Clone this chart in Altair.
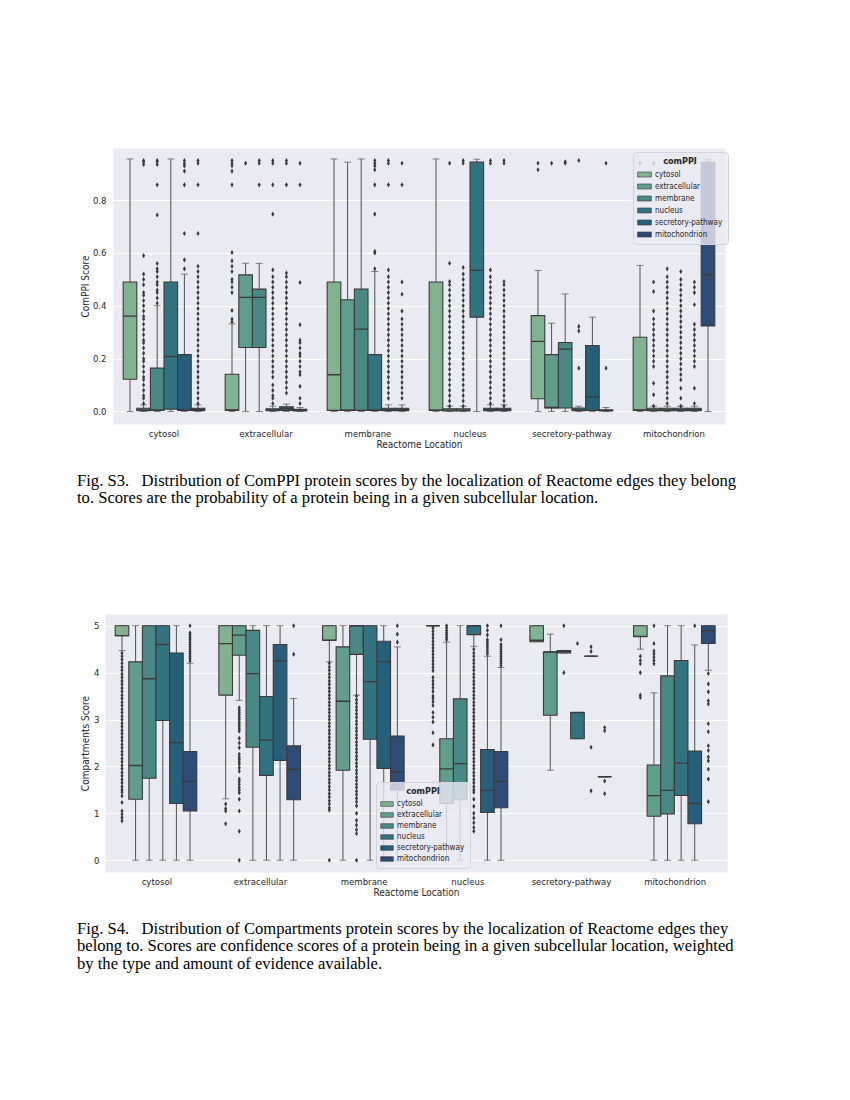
import altair as alt
import pandas as pd

LOCATIONS = ["cytosol", "extracellular", "membrane", "nucleus", "secretory-pathway", "mitochondrion"]
COMPPI = ["cytosol", "extracellular", "membrane", "nucleus", "secretory-pathway", "mitochondrion"]
PALETTE = ["#81B390", "#609D8B", "#4A8886", "#33737F", "#275F7B", "#2E4C76"]

# ---------- Fig. S3 (ComPPI score) : 6 values per Reactome location, hue order = COMPPI
S3_Q1 = [0.122, 0.003, 0.004, 0.009, 0.004, 0.003,
         0.004, 0.242, 0.242, 0.003, 0.004, 0.002,
         0.004, 0.004, 0.004, 0.004, 0.003, 0.003,
         0.004, 0.002, 0.002, 0.357, 0.003, 0.003,
         0.048, 0.013, 0.013, 0.003, 0.004, 0.002,
         0.004, 0.003, 0.003, 0.003, 0.003, 0.324]
S3_MED = [0.361, 0.006, 0.005, 0.208, 0.005, 0.006,
          0.006, 0.432, 0.432, 0.005, 0.012, 0.004,
          0.139, 0.005, 0.312, 0.005, 0.006, 0.006,
          0.005, 0.005, 0.005, 0.534, 0.006, 0.006,
          0.265, 0.015, 0.236, 0.006, 0.054, 0.004,
          0.006, 0.006, 0.006, 0.006, 0.006, 0.517]
S3_Q3 = [0.490, 0.012, 0.164, 0.490, 0.215, 0.012,
         0.141, 0.517, 0.463, 0.010, 0.018, 0.008,
         0.490, 0.423, 0.463, 0.215, 0.012, 0.012,
         0.490, 0.010, 0.010, 0.944, 0.012, 0.012,
         0.363, 0.215, 0.261, 0.013, 0.250, 0.006,
         0.281, 0.012, 0.012, 0.012, 0.012, 0.944]
S3_WLO = [0, 0, 0, 0, 0, 0,
          0, 0, 0, 0, 0, 0,
          0, 0, 0, 0, 0, 0,
          0, 0, 0, 0, 0, 0,
          0, 0, 0, 0, 0, 0,
          0, 0, 0, 0, 0, 0]
S3_WHI = [0.956, 0.025, 0.400, 0.956, 0.520, 0.025,
          0.332, 0.561, 0.561, 0.020, 0.028, 0.015,
          0.956, 0.944, 0.956, 0.530, 0.025, 0.025,
          0.956, 0.020, 0.020, 0.955, 0.025, 0.025,
          0.534, 0.334, 0.445, 0.020, 0.357, 0.015,
          0.553, 0.020, 0.020, 0.020, 0.020, 0.955]

S3_OUT_CYTOSOL = [
    [],
    [0.03, 0.05, 0.06, 0.08, 0.10, 0.12, 0.13, 0.15, 0.17, 0.19, 0.20, 0.22, 0.24, 0.26, 0.27, 0.29, 0.31,
     0.33, 0.35, 0.36, 0.38, 0.40, 0.42, 0.44, 0.45, 0.48, 0.50, 0.52, 0.59, 0.935, 0.945, 0.95],
    [0.41, 0.43, 0.45, 0.46, 0.48, 0.49, 0.51, 0.53, 0.54, 0.56, 0.744, 0.858, 0.935, 0.945, 0.95],
    [],
    [0.54, 0.574, 0.674, 0.858, 0.91, 0.93, 0.94, 0.95],
    [0.03, 0.05, 0.07, 0.09, 0.11, 0.13, 0.15, 0.17, 0.19, 0.21, 0.23, 0.25, 0.27, 0.29, 0.31, 0.33, 0.35,
     0.37, 0.39, 0.41, 0.43, 0.45, 0.47, 0.49, 0.51, 0.53, 0.55, 0.674, 0.858, 0.94, 0.95],
]
S3_OUT_EXTRACELLULAR = [
    [0.34, 0.35, 0.382, 0.45, 0.47, 0.49, 0.50, 0.53, 0.55, 0.57, 0.602, 0.858, 0.91, 0.93, 0.94, 0.95],
    [0.94],
    [0.858, 0.94, 0.95],
    [0.03, 0.05, 0.06, 0.08, 0.10, 0.13, 0.15, 0.17, 0.19, 0.21, 0.23, 0.25, 0.27, 0.29, 0.31, 0.33, 0.35,
     0.37, 0.39, 0.41, 0.43, 0.45, 0.47, 0.49, 0.51, 0.536, 0.747, 0.858, 0.94, 0.95],
    [0.07, 0.09, 0.11, 0.13, 0.15, 0.17, 0.19, 0.21, 0.23, 0.25, 0.27, 0.29, 0.31, 0.33, 0.35, 0.37, 0.39,
     0.41, 0.43, 0.45, 0.47, 0.49, 0.51, 0.524, 0.858, 0.94, 0.95],
    [0.03, 0.05, 0.095, 0.139, 0.15, 0.17, 0.19, 0.21, 0.22, 0.24, 0.26, 0.27, 0.328, 0.488, 0.858, 0.94],
]
S3_OUT_MEMBRANE = [
    [],
    [],
    [],
    [0.54, 0.60, 0.606, 0.747, 0.858, 0.915, 0.93, 0.94, 0.95],
    [0.05, 0.07, 0.09, 0.11, 0.13, 0.15, 0.17, 0.19, 0.21, 0.23, 0.25, 0.27, 0.29, 0.31, 0.33, 0.35, 0.37,
     0.39, 0.41, 0.43, 0.45, 0.47, 0.49, 0.51, 0.536, 0.858, 0.94, 0.95],
    [0.05, 0.07, 0.09, 0.11, 0.13, 0.15, 0.17, 0.19, 0.21, 0.23, 0.25, 0.27, 0.29, 0.31, 0.33, 0.35, 0.38,
     0.444, 0.49, 0.858, 0.94],
]
S3_OUT_NUCLEUS = [
    [],
    [0.02, 0.04, 0.06, 0.08, 0.10, 0.12, 0.14, 0.16, 0.18, 0.20, 0.22, 0.24, 0.26, 0.28, 0.30, 0.32, 0.34,
     0.36, 0.38, 0.40, 0.42, 0.44, 0.46, 0.48, 0.492, 0.561, 0.94],
    [0.02, 0.04, 0.06, 0.08, 0.10, 0.12, 0.14, 0.16, 0.18, 0.20, 0.22, 0.24, 0.26, 0.28, 0.30, 0.32, 0.34,
     0.36, 0.38, 0.40, 0.42, 0.44, 0.46, 0.48, 0.50, 0.52, 0.545, 0.94, 0.95],
    [],
    [0.03, 0.05, 0.07, 0.09, 0.11, 0.13, 0.15, 0.17, 0.19, 0.21, 0.23, 0.25, 0.27, 0.29, 0.31, 0.33, 0.35,
     0.37, 0.39, 0.41, 0.43, 0.45, 0.47, 0.49, 0.51, 0.536, 0.94, 0.95],
    [0.02, 0.04, 0.06, 0.08, 0.10, 0.12, 0.14, 0.16, 0.18, 0.20, 0.22, 0.24, 0.26, 0.28, 0.30, 0.32, 0.34,
     0.36, 0.38, 0.40, 0.42, 0.44, 0.46, 0.48, 0.492, 0.94, 0.95],
]
S3_OUT_SECRETORY = [
    [0.915, 0.94],
    [0.94],
    [0.94, 0.945],
    [0.164, 0.305, 0.322, 0.95],
    [],
    [0.164, 0.94],
]
S3_OUT_MITO = [
    [0.94],
    [0.02, 0.063, 0.107, 0.17, 0.19, 0.21, 0.23, 0.25, 0.27, 0.29, 0.31, 0.33, 0.35, 0.38, 0.454, 0.49, 0.94],
    [0.03, 0.05, 0.07, 0.09, 0.11, 0.13, 0.15, 0.17, 0.19, 0.21, 0.23, 0.25, 0.27, 0.29, 0.31, 0.33, 0.35,
     0.37, 0.39, 0.41, 0.43, 0.45, 0.47, 0.49, 0.51, 0.54, 0.94],
    [0.02, 0.05, 0.088, 0.12, 0.14, 0.16, 0.18, 0.20, 0.22, 0.24, 0.26, 0.28, 0.30, 0.32, 0.34, 0.36, 0.38,
     0.40, 0.42, 0.44, 0.46, 0.48, 0.50, 0.53, 0.94],
    [0.03, 0.088, 0.17, 0.19, 0.21, 0.23, 0.25, 0.27, 0.29, 0.31, 0.33, 0.404, 0.45, 0.47, 0.49, 0.94],
    [],
]

# ---------- Fig. S4 (Compartments score)
S4_Q1 = [4.79, 1.30, 1.75, 2.98, 1.21, 1.05,
         3.52, 4.37, 2.41, 1.81, 2.13, 1.29,
         4.69, 1.92, 4.39, 2.58, 1.96, 1.50,
         5.00, 1.21, 1.29, 4.81, 1.02, 1.12,
         4.66, 3.09, 4.42, 2.59, 4.35, 1.78,
         4.77, 0.94, 0.99, 1.38, 0.78, 4.62]
S4_MED = [4.79, 2.02, 3.87, 4.60, 2.51, 1.68,
          4.62, 4.80, 3.98, 2.56, 4.25, 1.94,
          4.69, 3.39, 5.00, 3.81, 4.23, 1.88,
          5.00, 1.95, 2.06, 5.00, 1.49, 1.68,
          4.69, 4.44, 4.45, 3.15, 4.35, 1.78,
          4.77, 1.38, 1.49, 2.07, 1.21, 4.89]
S4_Q3 = [5.00, 4.23, 5.00, 5.00, 4.42, 2.32,
         5.00, 5.00, 4.90, 3.49, 4.60, 2.44,
         5.00, 4.55, 5.00, 5.00, 4.67, 2.65,
         5.00, 2.59, 3.44, 5.00, 2.36, 2.32,
         5.00, 4.44, 4.47, 3.15, 4.35, 1.78,
         5.00, 2.03, 3.93, 4.26, 2.33, 5.00]
S4_WLO = [4.47, 0, 0, 0, 0, 0,
          1.31, 3.41, 0, 0, 0, 0,
          4.23, 0, 3.52, 0, 0, 0,
          5.00, 0, 0, 4.56, 0, 0,
          4.66, 1.92, 4.42, 2.59, 4.35, 1.78,
          4.50, 0, 0, 0, 0, 4.05]
S4_WHI = [5, 5, 5, 5, 5, 4.20,
          5, 5, 5, 5, 5, 3.45,
          5, 5, 5, 5, 5, 4.55,
          5, 4.65, 5, 5, 4.35, 4.11,
          5, 4.82, 4.47, 3.15, 4.35, 1.78,
          5, 3.57, 5, 5, 4.59, 5]

S4_OUT_CYTOSOL = [
    [4.42, 4.35, 4.28, 4.2, 4.12, 4.05, 3.97, 3.9, 3.82, 3.75, 3.67, 3.6, 3.52, 3.45, 3.37, 3.3, 3.22, 3.15,
     3.07, 3.0, 2.92, 2.85, 2.77, 2.7, 2.62, 2.55, 2.47, 2.4, 2.32, 2.25, 2.17, 2.1, 2.02, 1.95, 1.87, 1.8,
     1.72, 1.65, 1.57, 1.5, 1.45, 1.37, 1.23, 1.05, 0.98, 0.91, 0.84],
    [],
    [],
    [],
    [],
    [4.25, 4.3, 4.35, 4.4, 4.45, 4.5, 4.55, 4.6, 4.65, 4.7, 4.75, 4.8, 4.85, 5.0],
]
S4_OUT_EXTRACELLULAR = [
    [1.2, 1.1, 1.05, 0.78],
    [3.25, 3.2, 3.15, 3.1, 3.05, 3.0, 2.95, 2.9, 2.85, 2.8, 2.75, 2.6, 2.5, 2.4, 2.26, 2.2, 2.15, 2.1, 2.05,
     1.97, 1.9, 1.73, 1.68, 1.62, 1.55, 1.5, 1.44, 1.3, 1.05, 0.62, 0.0],
    [],
    [],
    [],
    [4.39, 5.0],
]
S4_OUT_MEMBRANE = [
    [4.2, 4.12, 4.05, 3.97, 3.9, 3.82, 3.75, 3.67, 3.6, 3.52, 3.45, 3.37, 3.3, 3.22, 3.15, 3.07, 3.0, 2.92,
     2.85, 2.77, 2.7, 2.62, 2.55, 2.47, 2.4, 2.32, 2.25, 2.17, 2.1, 2.02, 1.95, 1.87, 1.8, 1.72, 1.65, 1.57,
     1.5, 1.42, 1.35, 1.27, 1.2, 1.12, 1.07, 0.0],
    [],
    [3.5, 3.42, 3.35, 3.27, 3.2, 3.12, 3.05, 2.97, 2.9, 2.82, 2.75, 2.67, 2.6, 2.52, 2.45, 2.37, 2.3, 2.22,
     2.15, 2.07, 2.0, 1.92, 1.85, 1.77, 1.7, 1.62, 1.55, 1.47, 1.4, 1.32, 1.25, 1.16, 1.0, 0.85, 0.75, 0.65,
     0.57, 0.0],
    [],
    [],
    [4.65, 4.82, 5.0],
]
S4_OUT_NUCLEUS = [
    [4.95, 4.88, 4.81, 4.74, 4.67, 4.6, 4.53, 4.46, 4.39, 4.32, 4.25, 4.18, 4.11, 4.04, 3.9, 3.82, 3.75,
     3.68, 3.6, 3.5, 3.45, 3.38, 3.3, 3.15, 3.05, 2.95, 2.72, 2.46],
    [4.7, 4.75, 4.8, 4.85, 4.9, 4.95, 5.0],
    [],
    [4.5, 4.42, 4.35, 4.27, 4.2, 4.12, 4.05, 3.97, 3.9, 3.82, 3.75, 3.67, 3.6, 3.52, 3.45, 3.37, 3.3, 3.22,
     3.15, 3.07, 3.0, 2.92, 2.85, 2.77, 2.7, 2.62, 2.55, 2.47, 2.4, 2.32, 2.25, 2.17, 2.1, 2.02, 1.95, 1.87,
     1.8, 1.72, 1.65, 1.57, 1.5, 1.45, 1.3, 1.15, 1.0, 0.9, 0.8, 0.7, 0.62],
    [4.4, 4.45, 4.5, 4.55, 4.6, 4.65, 4.7, 4.8, 4.9, 5.0],
    [4.15, 4.2, 4.25, 4.3, 4.35, 4.4, 4.45, 4.5, 4.55, 4.6, 4.7, 5.0],
]
S4_OUT_SECRETORY = [
    [],
    [],
    [5.0, 4.0],
    [4.62],
    [4.55, 4.45, 2.41, 1.48],
    [2.83, 2.76, 1.69, 1.42],
]
S4_OUT_MITO = [
    [4.35, 4.26, 4.19, 4.0, 3.52, 3.47],
    [5.0, 4.62, 4.46, 4.4, 4.33, 4.26, 4.19],
    [],
    [],
    [5.0],
    [3.98, 3.76, 3.59, 3.4, 3.33, 2.91, 2.74, 2.44, 2.34, 2.2, 2.12, 1.94, 1.73, 1.25],
]

S3_CAPTION = [
    "Fig. S3.\u00a0\u00a0\u00a0Distribution of ComPPI protein scores by the localization of Reactome edges they belong",
    "to. Scores are the probability of a protein being in a given subcellular location.",
]
S4_CAPTION = [
    "Fig. S4.\u00a0\u00a0\u00a0Distribution of Compartments protein scores by the localization of Reactome edges they",
    "belong to. Scores are confidence scores of a protein being in a given subcellular location, weighted",
    "by the type and amount of evidence available.",
]

AXIS_FONT = "Liberation Sans Narrow, DejaVu Sans Condensed, Arial Narrow, sans-serif"
SERIF = "Liberation Serif, Times New Roman, serif"
EDGE = "#3a3a3a"
WHISK = "#505050"
DIAMOND = "M0,-1L0.6,0L0,1L-0.6,0Z"
SWATCH = "M-1.15,-0.42H1.15V0.42H-1.15Z"


def stats_frame(q1, med, q3, wlo, whi):
    rows = []
    for i, loc in enumerate(LOCATIONS):
        for j, comp in enumerate(COMPPI):
            k = i * 6 + j
            rows.append(dict(loc=loc, comp=comp, q1=q1[k], med=med[k], q3=q3[k], wlo=wlo[k], whi=whi[k]))
    return pd.DataFrame(rows)


def outlier_frame(groups):
    rows = []
    for loc, per_comp in zip(LOCATIONS, groups):
        for comp, vals in zip(COMPPI, per_comp):
            for v in vals:
                rows.append(dict(loc=loc, comp=comp, val=v))
    return pd.DataFrame(rows)


def panel(stats, outs, ytitle, ydomain, yticks, yfmt, width, height, lx, ly, caption, cap_dx,
          label_pad, title_pad, sym_size):
    xenc = alt.X("loc:N", sort=LOCATIONS, scale=alt.Scale(paddingInner=0, paddingOuter=0),
                 axis=alt.Axis(title="Reactome Location", labelAngle=0, ticks=False, domain=False,
                               grid=False, labelPadding=4, titlePadding=2))
    xo = alt.XOffset("comp:N", sort=COMPPI, scale=alt.Scale(paddingInner=0, paddingOuter=0.75))
    yscale = alt.Scale(domain=ydomain, nice=False, zero=False)
    yaxis = alt.Axis(title=ytitle, values=yticks, format=yfmt, ticks=False, domain=False, grid=True,
                     gridColor="white", gridWidth=1, labelPadding=label_pad, titlePadding=title_pad)

    def Y(f):
        return alt.Y(f, scale=yscale, axis=yaxis)

    base = alt.Chart(stats)
    lo = base.mark_rule(color=WHISK, strokeWidth=1).encode(x=xenc, xOffset=xo, y=Y("wlo:Q"), y2="q1:Q")
    hi = base.mark_rule(color=WHISK, strokeWidth=1).encode(x=xenc, xOffset=xo, y=Y("q3:Q"), y2="whi:Q")
    cap_lo = base.mark_tick(color=WHISK, size=7, thickness=1, orient="horizontal").encode(
        x=xenc, xOffset=xo, y=Y("wlo:Q"))
    cap_hi = base.mark_tick(color=WHISK, size=7, thickness=1, orient="horizontal").encode(
        x=xenc, xOffset=xo, y=Y("whi:Q"))
    box = base.mark_bar(stroke=EDGE, strokeWidth=1.1).encode(
        x=xenc, xOffset=xo, y=Y("q1:Q"), y2="q3:Q",
        color=alt.Color("comp:N", sort=COMPPI, scale=alt.Scale(domain=COMPPI, range=PALETTE),
                        legend=alt.Legend(title="comPPI", orient="none", legendX=lx, legendY=ly,
                                          fillColor="rgba(234,234,242,0.8)", strokeColor="#d2d2da",
                                          cornerRadius=3, padding=5, titleAnchor="middle",
                                          titleFont=AXIS_FONT, titleFontSize=9, titleFontWeight=600,
                                          titleColor="#262626", titlePadding=2,
                                          labelFont=AXIS_FONT, labelFontSize=8, labelColor="#262626",
                                          symbolType=SWATCH, symbolSize=sym_size, symbolStrokeWidth=0.6,
                                          symbolStrokeColor=EDGE, rowPadding=1, labelOffset=4)))
    med = base.mark_bar(fillOpacity=0, stroke=EDGE, strokeWidth=1.3).encode(
        x=xenc, xOffset=xo, y=Y("med:Q"), y2="med:Q")
    pts = alt.Chart(outs).mark_point(shape=DIAMOND, filled=True, size=26, color=EDGE, opacity=1).encode(
        x=xenc, xOffset=xo, y=Y("val:Q"))
    return alt.layer(lo, hi, cap_lo, cap_hi, box, med, pts).properties(
        width=width, height=height,
        title=alt.TitleParams(text=caption, orient="bottom", anchor="start", frame="group",
                              font=SERIF, fontSize=16.6, fontWeight="normal", color="black",
                              lineHeight=17.5, dx=cap_dx, offset=23))


def spacer():
    return alt.Chart(pd.DataFrame({"v": [0]})).mark_point(opacity=0, size=0).encode(
        x=alt.value(0), y=alt.value(0)).properties(
        width=1, height=1, view=alt.ViewBackground(fill="transparent", strokeOpacity=0))


s3 = panel(stats_frame(S3_Q1, S3_MED, S3_Q3, S3_WLO, S3_WHI),
           outlier_frame([S3_OUT_CYTOSOL, S3_OUT_EXTRACELLULAR, S3_OUT_MEMBRANE,
                          S3_OUT_NUCLEUS, S3_OUT_SECRETORY, S3_OUT_MITO]),
           "ComPPI Score", [-0.0475, 0.9975], [0, 0.2, 0.4, 0.6, 0.8], ".1f",
           612, 276, 520, 4, S3_CAPTION, -36, 7, 2, 144)
s4 = panel(stats_frame(S4_Q1, S4_MED, S4_Q3, S4_WLO, S4_WHI),
           outlier_frame([S4_OUT_CYTOSOL, S4_OUT_EXTRACELLULAR, S4_OUT_MEMBRANE,
                          S4_OUT_NUCLEUS, S4_OUT_SECRETORY, S4_OUT_MITO]),
           "Compartments Score", [-0.25, 5.25], [0, 1, 2, 3, 4, 5], "d",
           622, 258, 271, 168, S4_CAPTION, -28, 6, 3, 121)

row1 = alt.hconcat(spacer(), s3, spacing=0).resolve_scale(color="independent").resolve_legend(
    color="independent")
row2 = alt.hconcat(spacer(), s4, spacing=0).resolve_scale(color="independent").resolve_legend(
    color="independent")

chart = alt.vconcat(row1, row2, spacing=107).resolve_scale(
    color="independent").resolve_legend(color="independent").properties(
    padding={"left": 68, "top": 140, "right": 5, "bottom": 5},
    background="white",
).configure_view(fill="#EAEAF2", strokeOpacity=0).configure_axis(
    labelFont=AXIS_FONT, titleFont=AXIS_FONT, labelFontSize=9.5, titleFontSize=10,
    labelColor="#262626", titleColor="#262626", titleFontWeight="normal")

chart.save("out.html", embed_options={"renderer": "svg", "actions": False})
